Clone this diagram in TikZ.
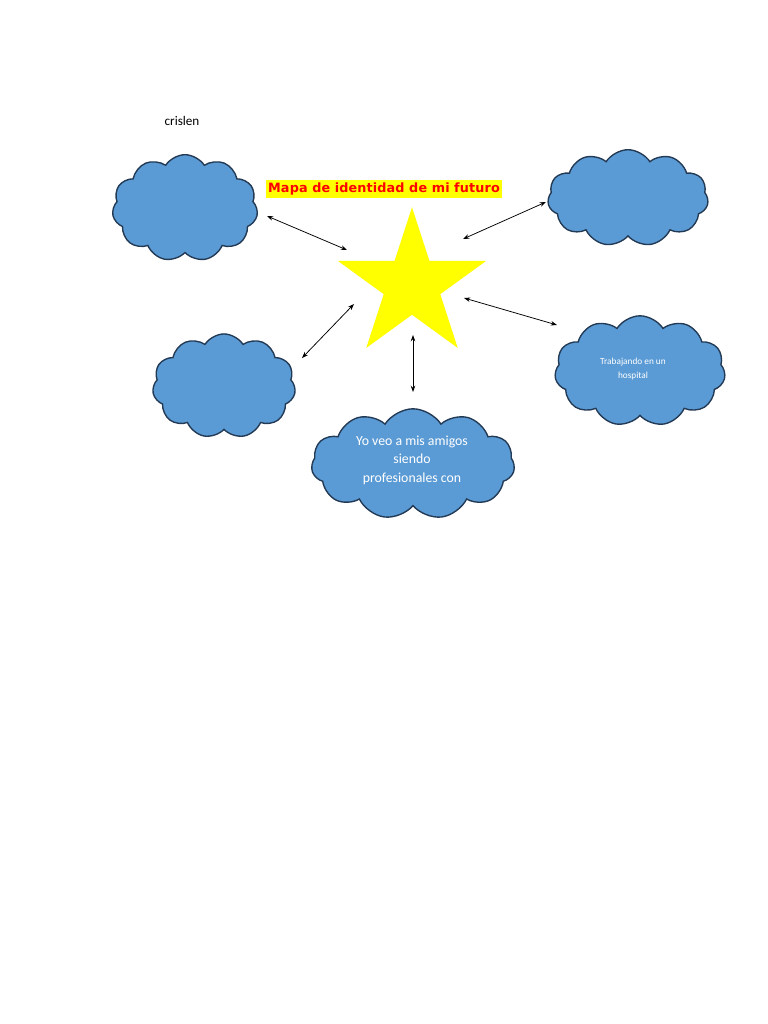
\documentclass[tikz,border=0pt]{standalone}
\usepackage{fontspec}
\setmainfont{Carlito}
\newfontfamily\titlefont{DejaVu Sans}
\usetikzlibrary{shapes.symbols,shapes.geometric,arrows.meta}
\definecolor{cloudfill}{HTML}{5B9BD5}
\definecolor{cloudline}{HTML}{233A55}
\definecolor{titlered}{HTML}{FF0000}
\definecolor{titleyellow}{HTML}{FFFF00}
\tikzset{
  nube/.style={cloud, cloud puffs=11, cloud puff arc=115, aspect=1.4,
    fill=cloudfill, draw=cloudline, line width=1.1pt, inner sep=0pt},
  link/.style={{Stealth[length=5pt,width=3.6pt]}-{Stealth[length=5pt,width=3.6pt]}, line width=0.6pt},
  nubetext/.style={text=white, align=center, inner sep=0pt}
}
\begin{document}
\begin{tikzpicture}[x=0.797pt,y=-0.797pt]
    \useasboundingbox (0,0) rectangle (768,1024);
    %
    \node[font=\fontsize{10.5}{12}\selectfont] (autor) at (182,121) {crislen};
    \node[fill=titleyellow, text=titlered, inner xsep=2pt, inner ysep=2.5pt,
      font=\titlefont\bfseries\fontsize{10.2}{12}\selectfont] (titulo) at (384,189)
      {\addfontfeatures{LetterSpace=1}Mapa de identidad de mi futuro};
    %
    \node[star, star points=5, star point ratio=2.618, minimum size=124pt,
      inner sep=0pt, fill=titleyellow] (estrella) at (412,285) {};
    %
    \node[nube, minimum width=116pt, minimum height=85pt] (nubeA) at (185,208) {};
    \node[nube, minimum width=128pt, minimum height=77pt] (nubeB) at (628,198) {};
    \node[nube, minimum width=114pt, minimum height=83pt] (nubeC) at (224,386) {};
    \node[nube, minimum width=136pt, minimum height=88pt] (nubeD) at (640,371) {};
    \node[nube, minimum width=162pt, minimum height=88pt] (nubeE) at (413,464) {};
    %
    \node[nubetext, font=\fontsize{7.4}{11.5}\selectfont] (textoD) at (633,369)
      {Trabajando en un\\hospital};
    \node[nubetext, font=\fontsize{11}{14.7}\selectfont] (textoE) at (412,460)
      {Yo veo a mis amigos\\siendo\\profesionales con};
    %
    \coordinate (a1) at (267,216);
    \coordinate (b1) at (347,250);
    \coordinate (a2) at (546,202);
    \coordinate (b2) at (463,239);
    \coordinate (a3) at (302,358);
    \coordinate (b3) at (354,304);
    \coordinate (a4) at (557,325);
    \coordinate (b4) at (464,298);
    \coordinate (a5) at (413,392);
    \coordinate (b5) at (413,335);
    %
    \draw[link] (a1) -- (b1);
    \draw[link] (a2) -- (b2);
    \draw[link] (a3) -- (b3);
    \draw[link] (a4) -- (b4);
    \draw[link] (a5) -- (b5);
\end{tikzpicture}
\end{document}
